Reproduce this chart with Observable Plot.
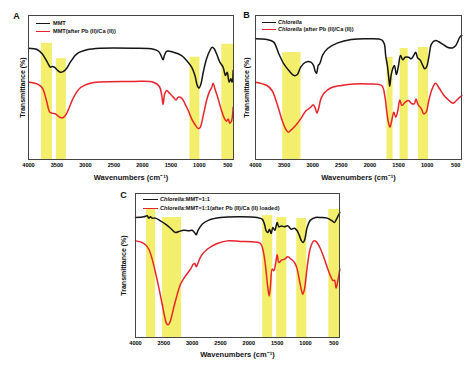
<!DOCTYPE html>
<html><head><meta charset="utf-8">
<script src="https://cdn.jsdelivr.net/npm/d3@7"></script>
<script src="https://cdn.jsdelivr.net/npm/@observablehq/plot@0.6"></script>
<style>
body{margin:0;background:#fff;}
#wrap{position:relative;width:474px;height:366px;overflow:hidden;font-family:"Liberation Sans",Arial,sans-serif;}
.pl{position:absolute;}
.lg{position:absolute;font-size:5.6px;font-weight:bold;color:#111;white-space:nowrap;line-height:1;}
.sw{position:absolute;height:0;border-top:1.6px solid #111;}
</style></head>
<body><div id="wrap"></div>
<script>
// wavenumber (cm-1) and transmittance (arbitrary 0-100)
const aWave = [4000,3850,3760,3670,3615,3585,3545,3500,3440,3393,3335,3265,3150,2975,2740,2156,1806,1720,1672,1637,1614,1573,1456,1310,1223,1135,1077,1036,1007,972,931,873,815,774,739,698,640,582,541,511,476,447,424,406];
const aMMT = [77.3,76.4,73.4,67.6,64.1,64.6,64.1,62.3,60.6,61,63,67.6,73.4,76.2,77.3,77.3,76.6,75.2,72.2,69.2,72.2,75.2,74.5,72.2,68.8,64.1,58.3,51.4,49.5,52.5,60.6,69.9,75.7,78,76.9,73.4,67.6,64.1,58.3,60.6,53.7,56,53.7,61.8];
const aWaveR = [4000,3850,3760,3685,3627,3585,3527,3470,3410,3352,3294,3206,3090,2915,2740,2156,1806,1701,1660,1637,1608,1573,1515,1456,1410,1369,1310,1252,1194,1135,1077,1019,989,931,873,826,785,756,727,669,611,564,523,494,465,436,406];
const aMMTPb = [53.7,52.5,49.8,41,32.9,32.2,31.7,29.9,28.9,30.6,35.2,43.3,49.8,53,53.9,54.2,53.7,50.7,44.4,38.2,45.6,47.9,45.6,43.3,41.4,43.3,42.6,38.7,34,28.2,24.3,21.5,22,30.6,41,46.8,49.8,53,49.1,42.1,34,28.9,26.6,28.2,25.2,26.6,36.3];

const bWave = [4000,3800,3682,3593,3505,3417,3328,3269,3210,3122,3034,2986,2957,2933,2904,2880,2857,2827,2739,2562,2326,2032,1796,1749,1725,1696,1672,1654,1631,1602,1572,1537,1501,1466,1425,1384,1325,1278,1236,1201,1166,1118,1077,1042,1012,971,924,853,765,647,559,500,429,394];
const bChl = [83.8,83.3,81.5,73.4,66.4,61.8,58.3,59,64.1,67.6,67.6,65.3,61.3,59.9,65.3,66.4,68.8,72.5,77.1,81,83.3,83.8,83.1,80.3,72.2,65.3,57.2,50.9,58.3,63,65.3,59,65.3,72.2,69.2,71,71,69.9,72.2,74.5,70.6,68.8,65.3,63,64.1,71,80.3,82.6,81,78,77.5,79.2,85,86.1];
const bWaveR = [4000,3800,3711,3623,3534,3475,3428,3375,3299,3210,3122,3034,2992,2957,2927,2898,2857,2798,2680,2503,2267,2032,1796,1737,1708,1678,1649,1619,1584,1549,1513,1478,1443,1384,1325,1266,1225,1195,1160,1101,1060,1018,971,912,853,783,706,618,547,488,429,394];
const bChlPb = [53.7,51.4,47.9,38.7,27.1,21.3,19,20.6,23.6,28.2,33.6,36.3,38,35.9,32.2,35.2,42.1,46.1,49.8,51.4,52.5,52.5,51.4,43.3,34,25.9,22.5,27.1,32.9,29.4,34,41.4,37.5,39.8,41,38.7,38.7,42.1,38.2,35.2,31.7,32.9,41,49.1,53,49.1,44.4,41,39.1,41,43.3,44.4];

const cWave = [4000,3853,3794,3765,3735,3706,3647,3559,3471,3382,3294,3235,3147,3059,3000,2959,2929,2900,2824,2706,2500,2147,1853,1765,1724,1694,1665,1635,1606,1576,1541,1500,1471,1424,1371,1312,1253,1194,1147,1106,1071,1041,1012,971,912,824,735,618,529,488,453,424,394];
const cMix = [83.3,83.8,84.5,82.9,83.8,82.9,82.9,81,78.7,75.9,72.9,73.6,74.5,74.1,74.5,72.9,71.3,74.1,78.7,81.5,83.3,83.8,83.3,82.2,78.7,74.1,72.9,75.2,72.2,76.4,74.5,79.9,76.9,77.5,76.9,77.5,75.2,75.9,74.1,70.6,67.1,66,68.3,76.4,81.5,83.3,83.3,82.9,81,79.9,82.2,84.5,86.8];
const cWaveR = [4000,3912,3824,3765,3706,3647,3588,3529,3488,3453,3424,3394,3353,3294,3206,3118,3029,2982,2953,2929,2900,2841,2735,2559,2382,2147,1912,1794,1747,1706,1665,1641,1618,1588,1559,1529,1500,1471,1424,1371,1312,1253,1194,1147,1106,1076,1047,1018,971,912,853,806,747,676,606,547,512,488,459,429,394];
const cMixPb = [67.1,66.4,64.4,61.3,54.4,45.1,34.7,23.1,15,9.7,8.8,10.4,16.2,25.5,37,42.8,47.5,50.9,51.4,49.1,51.4,56.7,61.3,65.3,67.1,66.7,66.4,65.3,60.2,49.8,34.7,28.9,35.9,47.5,46.3,50.9,57.4,52.1,53.7,54.4,56,54.4,52.1,47.5,39.4,33.6,30.1,33.6,48.6,62.5,67.1,66.4,62.5,55.6,47.5,41.7,39.4,39.8,34.3,39.4,47.5];

// highlighted bands
const aBandFrom = [3772,3510,1165,605];
const aBandTo   = [3580,3335,990,400];
const aBandTop  = [80.6,70,71,80];
const bBandFrom = [3523,1702,1472,1154];
const bBandTo   = [3205,1596,1331,977];
const bBandTop  = [74.3,70.8,77,77.8];
const cBandFrom = [3806,3523,1755,1508,1154,588];
const cBandTo   = [3646,3187,1578,1330,977,400];
const cBandTop  = [88.9,83.3,84.7,83.3,82.6,88.9];

const ticks = [4000,3500,3000,2500,2000,1500,1000,500];
const legendA = ["MMT","MMT(after Pb (II)/Ca (II))"];
const legendB = ["Chlorella","Chlorella (after Pb (II)/Ca (II))"];
const legendC = ["Chlorella:MMT=1:1","Chlorella:MMT=1:1(after Pb (II)/Ca (II) loaded)"];
const panelLetters = ["A","B","C"];

const YEL = "#f3ef6c", BLK = "#151515", RED = "#e8232c";

function panel(o){
  const bands = o.bf.map((f,i)=>({x1:f,x2:o.bt[i],top:o.btop[i]}));
  const s1 = o.w1.map((w,i)=>({w,v:o.v1[i]}));
  const s2 = o.w2.map((w,i)=>({w,v:o.v2[i]}));
  return Plot.plot({
    width:o.width,height:o.height,
    marginLeft:o.ml,marginRight:o.mr,marginTop:o.mt,marginBottom:o.mb,
    style:{fontFamily:"Liberation Sans, Arial, sans-serif",background:"transparent"},
    x:{domain:[4000,400],ticks:ticks,tickSize:0,tickPadding:3.5,tickFormat:d=>String(d),label:null},
    y:{domain:[0,100],axis:null},
    marks:[
      Plot.rectY(bands,{x1:"x1",x2:"x2",y1:0,y2:"top",fill:YEL}),
      Plot.line(s1,{x:"w",y:"v",stroke:BLK,strokeWidth:1.5,curve:"catmull-rom"}),
      Plot.line(s2,{x:"w",y:"v",stroke:RED,strokeWidth:1.5,curve:"catmull-rom"}),
      Plot.frame({stroke:"#444",strokeWidth:1}),
      Plot.axisX({ticks:ticks,tickSize:0,tickPadding:3.5,fontSize:5.6,fontWeight:"bold",label:null,tickFormat:d=>String(d)}),
      Plot.text(["Wavenumbers (cm⁻¹)"],{frameAnchor:"bottom",dy:o.xld,lineAnchor:"middle",textAnchor:"middle",fontSize:7.5,fontWeight:"bold",fill:"#111"}),
      Plot.text(["Transmittance (%)"],{frameAnchor:"left",dx:o.yld,rotate:-90,textAnchor:"middle",lineAnchor:"middle",fontSize:7,fontWeight:"bold",fill:"#111"}),
      Plot.text([o.letter],{frameAnchor:"top-left",dx:o.ltx,dy:o.lty,textAnchor:"middle",lineAnchor:"middle",fontSize:9,fontWeight:"bold",fill:"#111"})
    ]
  });
}

const wrap = document.getElementById("wrap");
function place(el,left,top){el.classList.add("pl");el.style.left=left+"px";el.style.top=top+"px";wrap.appendChild(el);}

place(panel({width:237,height:185,ml:28,mr:4,mt:15,mb:26,w1:aWave,v1:aMMT,w2:aWaveR,v2:aMMTPb,bf:aBandFrom,bt:aBandTo,btop:aBandTop,xld:18,yld:-6,letter:panelLetters[0],ltx:-12,lty:1}),0,0);
place(panel({width:237,height:185,ml:18,mr:13,mt:15,mb:26,w1:bWave,v1:bChl,w2:bWaveR,v2:bChlPb,bf:bBandFrom,bt:bBandTo,btop:bBandTop,xld:18,yld:-9,letter:panelLetters[1],ltx:-9,lty:0}),237,0);
place(panel({width:260,height:181,ml:35,mr:21,mt:8,mb:29,w1:cWave,v1:cMix,w2:cWaveR,v2:cMixPb,bf:cBandFrom,bt:cBandTo,btop:cBandTop,xld:17,yld:-12,letter:panelLetters[2],ltx:-12,lty:2}),100,185);

function legend(items,x0,x1,ys,tx,italicWord){
  items.forEach((t,i)=>{
    const sw=document.createElement("div");sw.className="sw";
    sw.style.left=x0+"px";sw.style.width=(x1-x0)+"px";sw.style.top=(ys[i]-0.8)+"px";
    sw.style.borderTopColor = i===0?BLK:RED;
    wrap.appendChild(sw);
    const d=document.createElement("div");d.className="lg";
    d.style.left=tx+"px";d.style.top=(ys[i]-3)+"px";
    if(italicWord && t.startsWith(italicWord)){
      const em=document.createElement("i");em.textContent=italicWord;d.appendChild(em);
      d.appendChild(document.createTextNode(t.slice(italicWord.length)));
    } else d.textContent=t;
    wrap.appendChild(d);
  });
}
legend(legendA,36,50,[24,32],53,null);
legend(legendB,262,276,[23,30],278,"Chlorella");
legend(legendC,143,158,[200,209],160,"Chlorella");
</script></body></html>
